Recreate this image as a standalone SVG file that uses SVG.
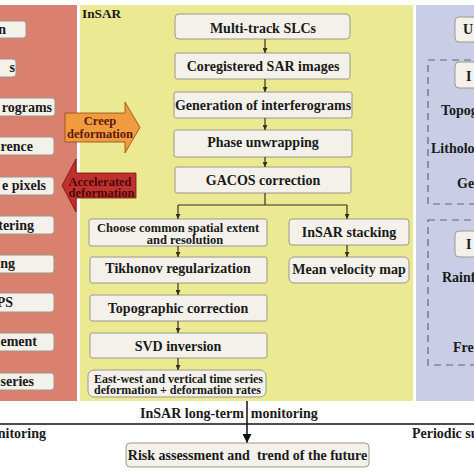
<svg xmlns="http://www.w3.org/2000/svg" width="474" height="474" viewBox="0 0 474 474">
<defs>
<style>
text{font-family:"Liberation Serif","Times New Roman",serif;font-weight:bold;fill:#1a1a1a;white-space:pre}
.t14{font-size:14px}
.t13{font-size:12.5px}
.t12{font-size:12px}
.c{text-anchor:middle}
.e{text-anchor:end}
.box{fill:#f4f1ea;stroke:#9c978d;stroke-width:1}
.pan{stroke:none}
.con{fill:none;stroke:#3a3020;stroke-width:1.2}
.dash{fill:none;stroke:#5f6684;stroke-width:1.2;stroke-dasharray:7 5}
.arrtxt{font-size:12.5px;text-anchor:middle}
</style>
<marker id="ah" viewBox="0 0 8 8" refX="8" refY="4" markerWidth="5" markerHeight="5" orient="auto" markerUnits="userSpaceOnUse">
<path d="M0,0 L8,4 L0,8 z" fill="#3a3020"/>
</marker>
<marker id="ahb" viewBox="0 0 10 10" refX="10" refY="5" markerWidth="9" markerHeight="9" orient="auto" markerUnits="userSpaceOnUse">
<path d="M0,0 L10,5 L0,10 z" fill="#111"/>
</marker>
</defs>
<rect width="474" height="474" fill="#ffffff"/>

<!-- panels -->
<rect class="pan" x="-2" y="5" width="79" height="396" fill="#d9806f"/>
<rect class="pan" x="80" y="5" width="333" height="396" fill="#ebe992"/>
<rect class="pan" x="416" y="5" width="60" height="396" fill="#c9cde5"/>

<!-- left panel boxes -->
<g id="left-boxes">
<g id="l1"><rect class="box" x="-10" y="21" width="36" height="17" rx="3"/><text class="t14 e" x="6" y="34">n</text></g>
<g id="l2"><rect class="box" x="-10" y="59" width="26" height="18" rx="3"/><text class="t14 e" x="15" y="72">s</text></g>
<g id="l3"><rect class="box" x="-10" y="98" width="65" height="18" rx="3"/><text class="t14 e" x="52" y="112">rograms</text></g>
<g id="l4"><rect class="box" x="-10" y="137" width="64" height="18" rx="3"/><text class="t14 e" x="33" y="151">rence</text></g>
<g id="l5"><rect class="box" x="-10" y="177" width="64" height="18" rx="3"/><text class="t14 e" x="46" y="190">e pixels</text></g>
<g id="l6"><rect class="box" x="-10" y="216" width="64" height="18" rx="3"/><text class="t14 e" x="34" y="230">tering</text></g>
<g id="l7"><rect class="box" x="-10" y="255" width="64" height="18" rx="3"/><text class="t14 e" x="15" y="268">ng</text></g>
<g id="l8"><rect class="box" x="-10" y="293" width="64" height="19" rx="3"/><text class="t14 e" x="13" y="307">PS</text></g>
<g id="l9"><rect class="box" x="-10" y="333" width="64" height="18" rx="3"/><text class="t14 e" x="37" y="346">ement</text></g>
<g id="l10"><rect class="box" x="-10" y="373" width="64" height="17" rx="3"/><text class="t14 e" x="34" y="386">series</text></g>
</g>

<!-- InSAR panel label -->
<text class="t14" x="82" y="18" style="font-size:13.3px">InSAR</text>

<!-- main column -->
<g id="multi"><rect class="box" x="175" y="14" width="175" height="25" rx="4"/><text class="t14 c" x="263" y="32.5">Multi-track SLCs</text></g>
<g id="coreg"><rect class="box" x="175" y="53" width="175" height="26" rx="2"/><text class="t14 c" x="263" y="71">Coregistered SAR images</text></g>
<g id="gen"><rect class="box" x="174" y="92" width="178" height="26" rx="2"/><text class="t14 c" x="263" y="110">Generation of interferograms</text></g>
<g id="phase"><rect class="box" x="174" y="130" width="178" height="27" rx="2"/><text class="t14 c" x="263" y="146.5">Phase unwrapping</text></g>
<g id="gacos"><rect class="box" x="175" y="167" width="176" height="26" rx="2"/><text class="t14 c" x="263" y="185">GACOS correction</text></g>

<!-- left branch -->
<g id="choose"><rect class="box" x="89" y="219" width="178" height="27" rx="2"/><text class="t13 c" x="178" y="231.5">Choose common spatial extent</text><text class="t13 c" x="185" y="243.5">and resolution</text></g>
<g id="tikh"><rect class="box" x="90" y="257" width="177" height="26" rx="2"/><text class="t14 c" x="178" y="273">Tikhonov regularization</text></g>
<g id="topo"><rect class="box" x="90" y="295" width="177" height="26" rx="2"/><text class="t14 c" x="178" y="313">Topographic correction</text></g>
<g id="svd"><rect class="box" x="90" y="333" width="177" height="25" rx="2"/><text class="t14 c" x="178" y="350.5">SVD inversion</text></g>
<g id="ew"><rect class="box" x="88" y="370" width="178" height="27" rx="6"/><text class="t12" x="94" y="383" textLength="169" lengthAdjust="spacing">East-west and vertical time series</text><text class="t12" x="94" y="393.5" textLength="167" lengthAdjust="spacing">deformation + deformation rates</text></g>

<!-- right branch -->
<g id="stack"><rect class="box" x="289" y="219" width="120" height="26" rx="3"/><text class="t14 c" x="349" y="236.5">InSAR stacking</text></g>
<g id="mvm"><rect class="box" x="289" y="257" width="120" height="26" rx="5"/><text class="t14 c" x="349" y="274">Mean velocity map</text></g>

<!-- connectors -->
<g id="connectors">
<line class="con" x1="265" y1="39" x2="265" y2="53" marker-end="url(#ah)"/>
<line class="con" x1="265" y1="79" x2="265" y2="92" marker-end="url(#ah)"/>
<line class="con" x1="265" y1="118" x2="265" y2="130" marker-end="url(#ah)"/>
<line class="con" x1="265" y1="157" x2="265" y2="167" marker-end="url(#ah)"/>
<polyline class="con" points="265,193 265,205"/>
<polyline class="con" points="178,205 347,205"/>
<line class="con" x1="178" y1="205" x2="178" y2="219" marker-end="url(#ah)"/>
<line class="con" x1="347" y1="205" x2="347" y2="219" marker-end="url(#ah)"/>
<line class="con" x1="178" y1="246" x2="178" y2="257" marker-end="url(#ah)"/>
<line class="con" x1="178" y1="283" x2="178" y2="295" marker-end="url(#ah)"/>
<line class="con" x1="178" y1="321" x2="178" y2="333" marker-end="url(#ah)"/>
<line class="con" x1="178" y1="358" x2="178" y2="370" marker-end="url(#ah)"/>
<line class="con" x1="347" y1="245" x2="347" y2="257" marker-end="url(#ah)"/>
<line x1="247" y1="401" x2="247" y2="443" stroke="#111" stroke-width="1.5" marker-end="url(#ahb)"/>
<line x1="0" y1="424" x2="474" y2="424" stroke="#111" stroke-width="1.5"/>
</g>

<!-- block arrows -->
<g id="creep">
<polygon points="65,113 125,113 125,102 140,127.5 125,153 125,142 65,142" fill="#f29a3e" stroke="#8a4a14" stroke-width="0.8"/>
<text class="arrtxt" x="100" y="124.5" style="fill:#5a1a10">Creep</text>
<text class="arrtxt" x="100" y="138" style="fill:#5a1a10">deformation</text>
</g>
<g id="accel">
<polygon points="62,185.5 76,159 76,173 136,173 136,198 76,198 76,212" fill="#c0302c" stroke="#7a1010" stroke-width="0.8"/>
<text class="arrtxt" x="100" y="186" style="fill:#4a0a0a">Accelerated</text>
<text class="arrtxt" x="101.5" y="197" style="fill:#4a0a0a">deformation</text>
</g>

<!-- right panel -->
<g id="right">
<rect class="dash" x="428" y="60" width="60" height="144"/>
<rect class="dash" x="428" y="220" width="60" height="145"/>
<g id="r1"><rect class="box" x="455" y="17" width="30" height="25" rx="4"/><text class="t14" x="463" y="34">U</text></g>
<g id="r2"><rect class="box" x="455" y="62" width="30" height="26" rx="4"/><text class="t14" x="466" y="81">I</text></g>
<g id="r3"><rect class="box" x="455" y="231" width="30" height="26" rx="4"/><text class="t14" x="466" y="249">I</text></g>
<text class="t14" x="441" y="115">Topog</text>
<text class="t14" x="431" y="153">Litholo</text>
<text class="t14" x="457" y="188">Ge</text>
<text class="t14" x="442" y="282">Rainf</text>
<text class="t14" x="453" y="352">Fre</text>
</g>

<!-- bottom -->
<text class="t14" x="140" y="418">InSAR long-term  monitoring</text>
<text class="t14 e" x="46" y="438">nitoring</text>
<text class="t14" x="412" y="438">Periodic su</text>
<g id="risk"><rect class="box" x="126" y="443" width="243" height="24" rx="4"/><text class="t14 c" x="247.5" y="460">Risk assessment and  trend of the future</text></g>
</svg>
